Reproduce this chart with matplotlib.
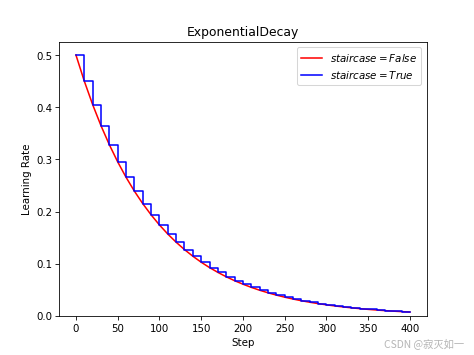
import matplotlib
matplotlib.use("Agg")
import matplotlib.pyplot as plt
import numpy as np

steps = [0, 10, 20, 30, 40, 50, 60, 70, 80, 90, 100, 110, 120, 130, 140, 150, 160, 170, 180, 190,
         200, 210, 220, 230, 240, 250, 260, 270, 280, 290, 300, 310, 320, 330, 340, 350, 360, 370,
         380, 390, 400]
lr_values = [0.5, 0.45, 0.405, 0.3645, 0.3281, 0.2952, 0.2657, 0.2391, 0.2152, 0.1937, 0.1743,
             0.1569, 0.1412, 0.1271, 0.1144, 0.1029, 0.0926, 0.0834, 0.0750, 0.0675, 0.0608,
             0.0547, 0.0492, 0.0443, 0.0399, 0.0359, 0.0323, 0.0291, 0.0262, 0.0236, 0.0212,
             0.0191, 0.0172, 0.0155, 0.0139, 0.0125, 0.0113, 0.0101, 0.0091, 0.0082, 0.0074]

fig = plt.figure(figsize=(6.4, 4.8), dpi=74.0625)
ax = fig.add_subplot(111)
ax.plot(steps, lr_values, color="red", label="$staircase=False$")
ax.step(steps, lr_values, where="post", color="blue", label="$staircase=True$")
ax.set_title("ExponentialDecay")
ax.set_xlabel("Step")
ax.set_ylabel("Learning Rate")
ax.set_ylim(bottom=0)
ax.legend(loc="upper right")
fig.text(0.98, 0.018, "CSDN @寂灭如一", ha="right", va="bottom", color="#b5b5b5",
         fontsize=10, family=["Noto Sans CJK SC", "DejaVu Sans"])
fig.savefig("out.png", dpi=74.0625)
